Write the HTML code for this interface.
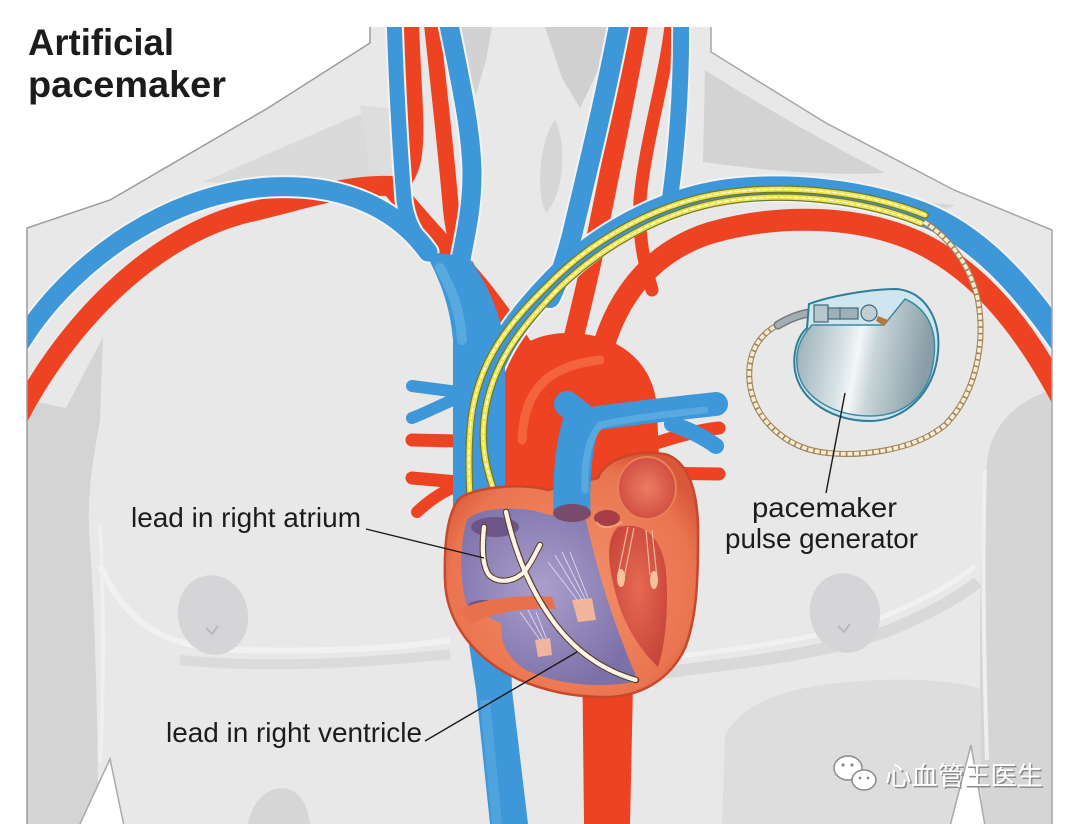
<!DOCTYPE html>
<html>
<head>
<meta charset="utf-8">
<style>
  html,body{margin:0;padding:0;background:#fff;}
  svg{display:block;}
</style>
</head>
<body>
<svg width="1080" height="824" viewBox="0 0 1080 824" xmlns="http://www.w3.org/2000/svg">
  <defs>
    <clipPath id="bodyClip">
      <path d="M370,27 L711,27 L711,52 L826,123 L954,190 L1052,230 L1052,824 L27,824 L27,228 L110,200 L268,108 L370,43 Z"/>
    </clipPath>
    <linearGradient id="genGrad" x1="0" y1="0" x2="1" y2="0.15">
      <stop offset="0" stop-color="#93a9b3"/>
      <stop offset="0.38" stop-color="#d6e1e4"/>
      <stop offset="0.5" stop-color="#f3f7f7"/>
      <stop offset="0.62" stop-color="#c9d5d9"/>
      <stop offset="1" stop-color="#879da7"/>
    </linearGradient>
    <radialGradient id="purpleGrad" cx="0.45" cy="0.45" r="0.6">
      <stop offset="0" stop-color="#aa9fcc"/>
      <stop offset="1" stop-color="#7c70a8"/>
    </radialGradient>
    <radialGradient id="heartGrad" cx="0.5" cy="0.55" r="0.6">
      <stop offset="0" stop-color="#f2926a"/>
      <stop offset="0.8" stop-color="#ea7550"/>
      <stop offset="1" stop-color="#d9583a"/>
    </radialGradient>
    <radialGradient id="lvGrad" cx="0.5" cy="0.45" r="0.6">
      <stop offset="0" stop-color="#e56a52"/>
      <stop offset="1" stop-color="#c7443a"/>
    </radialGradient>
    <radialGradient id="laGrad" cx="0.5" cy="0.5" r="0.55">
      <stop offset="0" stop-color="#ec7d64"/>
      <stop offset="1" stop-color="#cf4a3e"/>
    </radialGradient>
  </defs>

  <rect x="0" y="0" width="1080" height="824" fill="#ffffff"/>

  <g clip-path="url(#bodyClip)">
    <rect x="0" y="0" width="1080" height="824" fill="#e8e8e8"/>

    <!-- body shading -->
    <path d="M457,27 L492,27 L486,60 L476,95 L465,60 Z" fill="#d2d2d2"/>
    <path d="M545,27 L612,27 L602,62 L580,108 L562,78 Z" fill="#d0d0d0"/>
    <path d="M555,120 C566,140 566,190 546,213 C535,190 540,140 555,120 Z" fill="#d6d6d6"/>
    <path d="M203,182 L376,107 L395,188 Z" fill="#dadada"/>
    <path d="M360,105 L403,110 L403,180 L370,170 Z" fill="#dddddd"/>
    <path d="M705,70 C760,105 830,145 885,173 C820,176 760,170 703,162 Z" fill="#d3d3d3"/>
    <path d="M905,200 L955,205 L935,214 Z" fill="#d8d8d8"/>
    <!-- left arm -->
    <path d="M27,400 L66,408 L103,337 L100,420 C92,465 86,500 90,545 C95,620 98,720 98,824 L27,824 Z" fill="#d4d4d4"/>
    <path d="M100,525 C104,600 104,690 100,762" stroke="#efefef" stroke-width="4" fill="none"/>
    <!-- right arm -->
    <path d="M1052,390 C1020,400 995,420 988,455 C980,520 978,650 982,824 L1052,824 Z" fill="#d5d5d5"/>
    <path d="M985,470 C982,560 984,660 987,760" stroke="#efefef" stroke-width="4" fill="none"/>
    <!-- lower abdomen right -->
    <path d="M722,824 L725,735 C745,700 790,686 860,681 C920,677 955,682 980,688 L982,824 Z" fill="#dddddd"/>
    <path d="M248,824 C252,800 268,788 282,788 C298,788 308,805 310,824 Z" fill="#d6d6d6"/>
    <!-- pec contours -->
    <path d="M100,566 C130,630 170,648 240,650 C330,652 400,648 450,640" stroke="#f1f1f1" stroke-width="6" fill="none"/>
    <path d="M180,660 C260,668 360,664 450,654" stroke="#dbdbdb" stroke-width="10" fill="none"/>
    <path d="M640,676 C720,664 800,660 885,632 C930,614 958,598 978,582" stroke="#d9d9d9" stroke-width="12" fill="none"/>
    <path d="M640,662 C720,650 800,644 880,618 C925,600 955,582 975,566" stroke="#f1f1f1" stroke-width="5" fill="none"/>
    <!-- nipples -->
    <ellipse cx="213" cy="615" rx="35" ry="40" fill="#d5d5d7" transform="rotate(-12 213 615)"/>
    <path d="M206,628 L212,634 L218,626" stroke="#b9b9bb" stroke-width="2" fill="none"/>
    <ellipse cx="845" cy="613" rx="35" ry="40" fill="#d5d5d7" transform="rotate(-12 845 613)"/>
    <path d="M838,626 L844,632 L850,624" stroke="#b9b9bb" stroke-width="2" fill="none"/>

    <!-- ========== RED VESSELS ========== -->
    <g fill="none" stroke="#ee4323" stroke-linecap="round" stroke-linejoin="round">
      <path d="M12,430 C60,330 150,235 250,212 C310,198 345,184 395,186" stroke-width="20"/>
      <path d="M393,188 C420,222 452,254 480,288 C500,313 515,335 530,360" stroke-width="21"/>
      <path d="M411,15 C412,80 419,130 413,160 C409,178 401,186 393,190" stroke-width="16"/>
      <path d="M431,15 C439,90 447,160 451,210 C454,240 462,262 478,288" stroke-width="16"/>
      <path d="M640,15 C625,100 608,180 596,240 C588,280 578,320 570,352" stroke-width="20"/>
      <path d="M672,15 C668,70 645,140 640,200 C638,240 645,265 652,290" stroke-width="13"/>
      <path d="M598,368 C612,300 650,252 710,233 C780,213 860,215 920,243 C975,270 1022,320 1068,410" stroke-width="22"/>
      <!-- left pulmonary reds -->
      <path d="M412,440 L458,441" stroke-width="13"/>
      <path d="M412,478 L458,482" stroke-width="13"/>
      <path d="M417,512 C430,500 445,490 458,486" stroke-width="12"/>
      <!-- right pulmonary reds -->
      <path d="M650,445 C680,435 700,430 719,428" stroke-width="13"/>
      <path d="M650,473 L719,474" stroke-width="13"/>
    </g>
    <!-- descending aorta -->
    <path d="M582,640 L634,640 L630,824 L584,824 Z" fill="#ee4323"/>
    <!-- aortic arch -->
    <path d="M503,500 L503,385 C503,352 530,333 568,333 C618,333 655,362 657,410 L660,480 L620,505 Z" fill="#ee4323"/>
    <path d="M522,440 C524,392 545,366 600,360" stroke="#f6794f" stroke-width="9" fill="none" stroke-linecap="round" opacity="0.6"/>

    <!-- ========== BLUE VESSELS ========== -->
    <g fill="none" stroke="#f3f3f3" stroke-linecap="round" stroke-linejoin="round">
      <path d="M15,352 C60,272 160,193 270,187 C345,183 398,210 428,252" stroke-width="23"/>
      <path d="M394,15 C396,80 400,150 404,200 C406,215 410,226 418,238" stroke-width="19"/>
      <path d="M447,15 C458,70 472,130 472,175 C472,215 462,250 455,290" stroke-width="23"/>
      <path d="M621,15 C605,100 585,180 572,235 C565,262 558,282 550,298" stroke-width="24"/>
      <path d="M681,15 C682,90 676,160 668,212" stroke-width="20"/>
      <path d="M1068,352 C1020,280 975,235 922,214 C862,191 785,183 722,192 C652,203 588,243 548,287 C512,325 488,360 480,410" stroke-width="28"/>
    </g>
    <g fill="none" stroke="#3d97d8" stroke-linecap="round" stroke-linejoin="round">
      <path d="M412,386 L458,392" stroke-width="12"/>
      <path d="M412,418 C428,412 442,404 458,398" stroke-width="12"/>
      <path d="M15,352 C60,272 160,193 270,187 C345,183 398,210 428,252" stroke-width="19"/>
      <path d="M394,15 C396,80 400,150 404,200 C406,215 410,226 418,238" stroke-width="15"/>
      <path d="M447,15 C458,70 472,130 472,175 C472,215 462,250 455,290" stroke-width="19"/>
      <path d="M621,15 C605,100 585,180 572,235 C565,262 558,282 550,298" stroke-width="20"/>
      <path d="M681,15 C682,90 676,160 668,212" stroke-width="16"/>
      <path d="M1068,352 C1020,280 975,235 922,214 C862,191 785,183 722,192 C652,203 588,243 548,287 C512,325 488,360 480,410" stroke-width="24"/>
    </g>
    <!-- SVC / IVC -->
    <path d="M425,252 L468,256 C485,280 500,310 505,345 L505,480 L512,690 L528,824 L490,824 L476,690 L453,540 L453,340 C450,305 440,280 425,252 Z" fill="#3d97d8"/>
    <path d="M440,268 C452,290 460,310 462,340" stroke="#62b1e4" stroke-width="10" fill="none" stroke-linecap="round" opacity="0.7"/>
    <path d="M485,700 L497,824" stroke="#5eaee3" stroke-width="10" fill="none" opacity="0.6"/>

    <!-- ========== LEADS IN VEINS ========== -->
    <g fill="none" stroke-linecap="round" stroke-linejoin="round">
      <path d="M925,215 C866,191 787,184 724,193 C655,203 590,242 549,284 C510,322 478,360 471,420 C468,450 469,475 470,497" stroke="#6f7838" stroke-width="7.5"/>
      <path d="M921,223 C862,199 787,192 727,201 C660,211 597,250 556,291 C519,330 490,366 484,420 C481,452 488,472 493,488" stroke="#6f7838" stroke-width="7.5"/>
      <path d="M925,215 C866,191 787,184 724,193 C655,203 590,242 549,284 C510,322 478,360 471,420 C468,450 469,475 470,497" stroke="#efe443" stroke-width="5"/>
      <path d="M921,223 C862,199 787,192 727,201 C660,211 597,250 556,291 C519,330 490,366 484,420 C481,452 488,472 493,488" stroke="#efe443" stroke-width="5"/>
      <path d="M925,215 C866,191 787,184 724,193 C655,203 590,242 549,284 C510,322 478,360 471,420 C468,450 469,475 470,497" stroke="#ffffff" stroke-width="1.3" stroke-dasharray="4 3"/>
      <path d="M921,223 C862,199 787,192 727,201 C660,211 597,250 556,291 C519,330 490,366 484,420 C481,452 488,472 493,488" stroke="#ffffff" stroke-width="1.3" stroke-dasharray="4 3"/>
    </g>

    <!-- ========== HEART ========== -->
    <path d="M460,498 C478,486 525,483 548,490 L598,478 C605,458 640,448 668,455 C692,465 699,500 698,540 C698,585 696,620 685,648 C670,680 640,697 605,697 C568,697 528,688 498,668 C468,648 446,618 445,580 C444,545 447,512 460,498 Z" fill="url(#heartGrad)" stroke="#c9472b" stroke-width="2.5"/>
    <!-- purple RA + RV -->
    <path d="M467,520 C478,507 522,505 545,514 L586,520 C596,565 610,615 638,681 C602,689 560,685 528,671 C508,660 499,642 502,624 L478,612 C470,610 468,608 467,606 C460,585 459,545 467,520 Z" fill="url(#purpleGrad)"/>
    <ellipse cx="495" cy="527" rx="24" ry="10" fill="#6d5587"/>
    <ellipse cx="484" cy="606" rx="16" ry="6" fill="#6d5587"/>
    <!-- RA floor wall -->
    <path d="M458,610 C480,599 520,594 552,597 L556,609 C525,607 490,613 470,624 Z" fill="#e8704a"/>
    <!-- papillary -->
    <path d="M572,600 L592,598 L596,620 L578,622 Z" fill="#f1b49c"/>
    <path d="M535,640 L550,638 L552,655 L538,657 Z" fill="#f1b49c"/>
    <g stroke="#dfe2f4" stroke-width="1" fill="none" opacity="0.85">
      <path d="M555,555 L582,600"/><path d="M562,552 L585,599"/><path d="M570,552 L588,598"/><path d="M548,562 L578,601"/>
      <path d="M520,612 L540,640"/><path d="M528,610 L543,639"/><path d="M536,612 L546,638"/>
    </g>
    <!-- LV -->
    <path d="M618,527 C645,520 663,540 666,572 C669,610 665,645 658,667 C640,650 624,625 616,595 C608,565 605,540 618,527 Z" fill="url(#lvGrad)"/>
    <g stroke="#f4c3a8" stroke-width="1.2" fill="none" opacity="0.9">
      <path d="M628,527 L618,575"/><path d="M634,528 L624,578"/><path d="M646,530 L650,575"/><path d="M652,530 L657,578"/>
    </g>
    <ellipse cx="621" cy="578" rx="4" ry="9" fill="#f6c39d"/>
    <ellipse cx="654" cy="580" rx="4" ry="9" fill="#f6c39d"/>
    <!-- LA -->
    <ellipse cx="647" cy="488" rx="29" ry="31" fill="url(#laGrad)" stroke="#e9805a" stroke-width="2"/>
    <!-- aortic valve opening -->
    <ellipse cx="607" cy="518" rx="13" ry="8" fill="#a63e48"/>
    <path d="M596,522 C603,530 612,528 622,522" stroke="#f3a07a" stroke-width="2" fill="none"/>

    <!-- pulmonary artery -->
    <g fill="none" stroke="#3d97d8" stroke-linecap="round">
      <path d="M572,512 C571,475 574,440 584,415" stroke-width="37" stroke-linecap="butt"/>
      <path d="M585,418 L567,404" stroke-width="26"/>
      <path d="M585,420 C630,413 680,408 716,404" stroke-width="24"/>
      <path d="M672,424 C690,430 705,438 716,446" stroke-width="16"/>
    </g>
    <path d="M585,490 C584,460 588,440 600,425 C630,418 670,414 705,410" stroke="#62b1e4" stroke-width="7" fill="none" stroke-linecap="round" opacity="0.7"/>
    <ellipse cx="572" cy="513" rx="19" ry="9" fill="#7a4a6c"/>

    <!-- leads in heart -->
    <g fill="none" stroke-linecap="round" stroke-linejoin="round">
      <path d="M506,512 C514,548 528,588 556,625 C580,656 608,672 636,680" stroke="#5b3f2e" stroke-width="6.5"/>
      <path d="M484,527 C482,548 482,565 489,575 C498,584 514,582 524,572 C532,562 536,552 540,545" stroke="#5b3f2e" stroke-width="6.5"/>
      <path d="M506,512 C514,548 528,588 556,625 C580,656 608,672 636,680" stroke="#fbf5e6" stroke-width="4.3" stroke-dasharray="5 1.6"/>
      <path d="M484,527 C482,548 482,565 489,575 C498,584 514,582 524,572 C532,562 536,552 540,545" stroke="#fbf5e6" stroke-width="4.3" stroke-dasharray="5 1.6"/>
    </g>

    <!-- ========== GENERATOR ========== -->
    <path d="M924,222 C950,238 970,265 978,300 C986,345 975,395 945,425 C915,450 860,458 820,452 C785,446 755,420 750,385 C746,355 758,335 778,325" fill="none" stroke="#a3845a" stroke-width="6"/>
    <path d="M924,222 C950,238 970,265 978,300 C986,345 975,395 945,425 C915,450 860,458 820,452 C785,446 755,420 750,385 C746,355 758,335 778,325" fill="none" stroke="#f6ecd5" stroke-width="3.8" stroke-dasharray="5 1.6"/>
    <path d="M778,325 C790,318 800,314 815,312" fill="none" stroke="#6f7b80" stroke-width="9" stroke-linecap="round"/>
    <path d="M778,325 C790,318 800,314 815,312" fill="none" stroke="#a4aeb2" stroke-width="6" stroke-linecap="round"/>
    <path d="M809,304 C830,296 870,289 897,289 C926,292 941,320 938,352 C935,392 905,421 870,421 C833,421 800,401 795,371 C792,350 799,335 807,328 Z" fill="#cfe6ee" stroke="#2f7d97" stroke-width="2"/>
    <path d="M812,325 L884,325 L905,299 C928,309 937,331 934,356 C931,395 905,416 870,416 C836,416 804,399 798,372 C794,352 800,338 812,325 Z" fill="url(#genGrad)" stroke="#3b8aa2" stroke-width="1.5"/>
    <rect x="814" y="305" width="14" height="17" fill="#b7c6cc" stroke="#3e6a7a" stroke-width="1.2"/>
    <rect x="828" y="308" width="30" height="11" fill="#9fb0b6" stroke="#3e6a7a" stroke-width="1.2"/>
    <line x1="840" y1="308" x2="840" y2="319" stroke="#3e6a7a" stroke-width="1"/>
    <circle cx="869" cy="313" r="8" fill="#c2ced2" stroke="#3e6a7a" stroke-width="1.2"/>
    <path d="M878,316 L888,320 L884,326 L876,321 Z" fill="#b6773a"/>

    <!-- armpit gaps -->
    <path d="M79,826 L110,759 L124,826 Z" fill="#ffffff" stroke="#a9a9a9" stroke-width="1.5"/>
    <path d="M950,826 L971,745 L985,826 Z" fill="#ffffff" stroke="#a9a9a9" stroke-width="1.5"/>
  </g>

  <!-- silhouette outline -->
  <path d="M27,824 L27,228 L110,200 L268,108 L370,43 L370,27" fill="none" stroke="#9c9c9c" stroke-width="1.5"/>
  <path d="M711,27 L711,52 L826,123 L954,190 L1052,230 L1052,824" fill="none" stroke="#a6a6a6" stroke-width="1.5"/>

  <!-- leader lines -->
  <g stroke="#1a1a1a" stroke-width="1.4" fill="none">
    <path d="M366,529 L484,558"/>
    <path d="M425,741 L577,652"/>
    <path d="M845,393 L826,493"/>
  </g>

  <!-- labels -->
  <g font-family="'Liberation Sans', Arial, sans-serif" fill="#1c1c1c">
    <text x="28" y="55" font-size="37" font-weight="bold" textLength="146" lengthAdjust="spacingAndGlyphs">Artificial</text>
    <text x="28" y="97" font-size="37" font-weight="bold" textLength="198" lengthAdjust="spacingAndGlyphs">pacemaker</text>
    <text x="131" y="527" font-size="28" textLength="230" lengthAdjust="spacingAndGlyphs">lead in right atrium</text>
    <text x="166" y="742" font-size="28" textLength="256" lengthAdjust="spacingAndGlyphs">lead in right ventricle</text>
    <text x="752" y="517" font-size="28" textLength="145" lengthAdjust="spacingAndGlyphs">pacemaker</text>
    <text x="725" y="548" font-size="28" textLength="193" lengthAdjust="spacingAndGlyphs">pulse generator</text>
  </g>

  <!-- watermark -->
  <g>
    <ellipse cx="848" cy="768" rx="14" ry="12" fill="#ffffff" stroke="#8a8a8a" stroke-width="1.5"/>
    <ellipse cx="864" cy="780" rx="12" ry="10" fill="#ffffff" stroke="#8a8a8a" stroke-width="1.5"/>
    <circle cx="843" cy="765" r="1.6" fill="#8a8a8a"/>
    <circle cx="852" cy="765" r="1.6" fill="#8a8a8a"/>
    <circle cx="860" cy="778" r="1.4" fill="#8a8a8a"/>
    <circle cx="868" cy="778" r="1.4" fill="#8a8a8a"/>
    <text x="886.5" y="786.5" font-size="26" font-family="'Liberation Sans','Noto Sans CJK SC','WenQuanYi Zen Hei',sans-serif" fill="#8c8c8c" textLength="158" lengthAdjust="spacingAndGlyphs">心血管王医生</text>
    <text x="885" y="785" font-size="26" font-family="'Liberation Sans','Noto Sans CJK SC','WenQuanYi Zen Hei',sans-serif" fill="#ffffff" textLength="158" lengthAdjust="spacingAndGlyphs">心血管王医生</text>
  </g>
</svg>
</body>
</html>
